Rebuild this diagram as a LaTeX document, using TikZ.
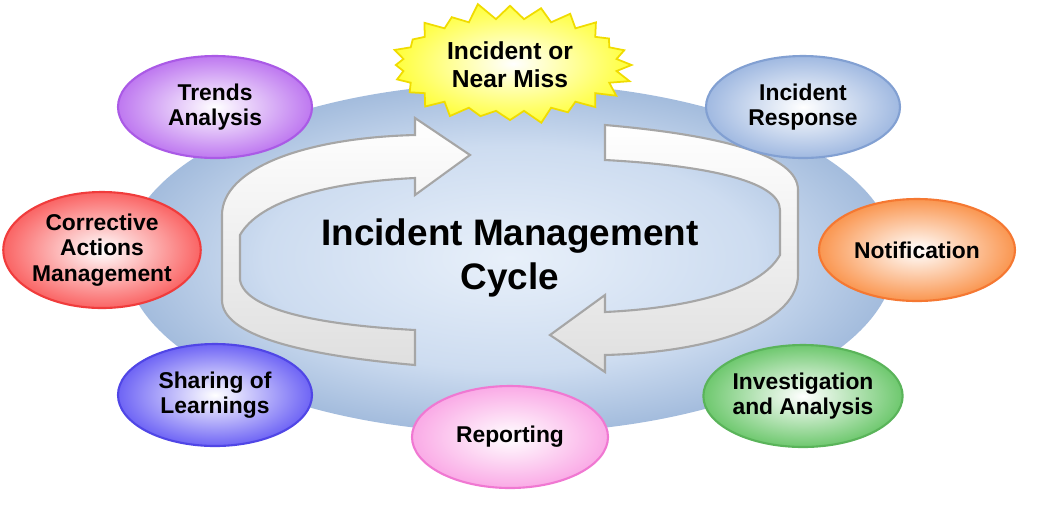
\documentclass[tikz,border=0pt]{standalone}
\usepackage{fontspec}
\setmainfont{Liberation Sans}
\usetikzlibrary{shapes.geometric,shapes.symbols}
\definecolor{bgA}{RGB}{232,240,250}
\definecolor{bgB}{RGB}{205,220,240}
\definecolor{bgC}{RGB}{140,170,210}
\definecolor{bgD}{RGB}{40,80,150}
\definecolor{bgE}{RGB}{10,45,115}
\pgfdeclareradialshading{bigring}{\pgfpoint{0bp}{0bp}}{color(0bp)=(bgA); color(16bp)=(bgB); color(30bp)=(bgC); color(42bp)=(bgD); color(50bp)=(bgE); color(100bp)=(bgE)}
\begin{document}
\begin{tikzpicture}[x=0.02cm,y=-0.02cm,
  bub/.style={ellipse,minimum width=194*0.02cm,minimum height=102*0.02cm,line width=1.2pt,inner sep=0pt,align=center,font=\bfseries\fontsize{13}{14.5}\selectfont},
  rib/.style={draw=gray!70,line width=1.2pt,top color=white,bottom color=gray!25}]
\useasboundingbox (0,0) rectangle (1042,512);
\node[ellipse,minimum width=770*0.02cm,minimum height=350*0.02cm,draw=none,shading=bigring] (big) at (510,258) {};
% ribbons
\path[rib] (415,135) .. controls (300,138) and (222,170) .. (222,215) -- (222,300) .. controls (222,335) and (300,355) .. (415,365) -- (415,330) .. controls (320,325) and (245,310) .. (240,280) -- (240,235) .. controls (260,200) and (330,182) .. (415,178) -- (415,195) -- (470,155) -- (415,118) -- cycle;
\path[rib] (605,355) .. controls (720,352) and (798,320) .. (798,275) -- (798,190) .. controls (798,155) and (720,135) .. (605,125) -- (605,160) .. controls (700,165) and (780,180) .. (780,210) -- (780,255) .. controls (760,290) and (690,308) .. (605,312) -- (605,295) -- (550,335) -- (605,372) -- cycle;
\node[align=center,font=\bfseries\fontsize{21}{25}\selectfont] (title) at (510,258) {Incident Management\\Cycle};
\node[starburst,starburst points=24,starburst point height=0.35cm,minimum width=5cm,minimum height=2.55cm,draw={rgb,255:red,240;green,220;blue,0},line width=1pt,inner color=white,outer color={rgb,255:red,255;green,255;blue,60},align=center,font=\bfseries\fontsize{14}{16}\selectfont,random starburst=11] (star) at (510,65) {Incident or\\Near Miss};
\node[bub,draw={rgb,255:red,170;green,90;blue,230},inner color=white,outer color={rgb,255:red,190;green,120;blue,240}] (trend) at (215,107) {Trends\\Analysis};
\node[bub,minimum height=116*0.02cm,draw={rgb,255:red,240;green,60;blue,60},inner color=white,outer color={rgb,255:red,250;green,100;blue,100}] (corr) at (102,250) {Corrective\\Actions\\Management};
\node[bub,draw={rgb,255:red,80;green,70;blue,230},inner color=white,outer color={rgb,255:red,110;green,100;blue,245}] (share) at (215,395) {Sharing of\\Learnings};
\node[bub,minimum width=196*0.02cm,draw={rgb,255:red,240;green,120;blue,210},inner color=white,outer color={rgb,255:red,250;green,170;blue,230}] (rep) at (510,437) {Reporting};
\node[bub,draw={rgb,255:red,90;green,180;blue,90},inner color=white,outer color={rgb,255:red,110;green,200;blue,110}] (inv) at (803,396) {Investigation\\and Analysis};
\node[bub,minimum width=196*0.02cm,draw={rgb,255:red,245;green,120;blue,50},inner color=white,outer color={rgb,255:red,250;green,150;blue,80}] (noti) at (917,250) {Notification};
\node[bub,draw={rgb,255:red,130;green,160;blue,210},inner color=white,outer color={rgb,255:red,160;green,185;blue,225}] (resp) at (803,107) {Incident\\Response};
\end{tikzpicture}
\end{document}
